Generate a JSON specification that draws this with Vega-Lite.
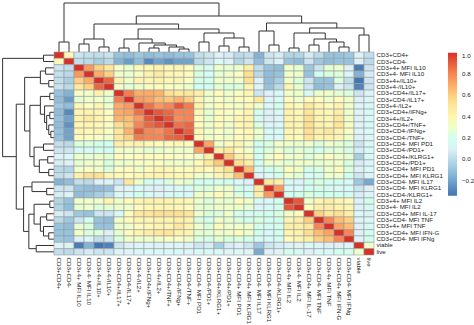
{
  "$schema": "https://vega.github.io/schema/vega-lite/v6.json",
  "background": "white",
  "padding": 0,
  "params": [
    {"name": "names", "value": ["CD3+CD4+", "CD3+CD4-", "CD3+4+ MFI IL10", "CD3+4- MFI IL10", "CD3+4+/IL10+", "CD3+4-/IL10+", "CD3+CD4+/IL17+", "CD3+CD4-/IL17+", "CD3+4-/IL2+", "CD3+CD4+/IFNg+", "CD3+4+/IL2+", "CD3+CD4+/TNF+", "CD3+CD4-/IFNg+", "CD3+CD4-/TNF+", "CD3+CD4- MFI PD1", "CD3+CD4-/PD1+", "CD3+CD4+/KLRG1+", "CD3+CD4+/PD1+", "CD3+CD4+ MFI PD1", "CD3+CD4+ MFI KLRG1", "CD3+CD4- MFI IL17", "CD3+CD4- MFI KLRG1", "CD3+CD4-/KLRG1+", "CD3+4+ MFI IL2", "CD3+4- MFI IL2", "CD3+CD4+ MFI IL-17", "CD3+CD4- MFI TNF", "CD3+4+ MFI TNF", "CD3+CD4+ MFI IFN-G", "CD3+CD4- MFI IFNg", "viable", "live"]}
  ],
  "datasets": {
    "tree": [
      {"p":0,"p2":1,"h":10,"h2":10},{"p":0,"p2":0,"h":0,"h2":10},{"p":1,"p2":1,"h":0,"h2":10},
      {"p":2,"p2":3,"h":8,"h2":8},{"p":2,"p2":2,"h":0,"h2":8},{"p":3,"p2":3,"h":0,"h2":8},
      {"p":4,"p2":5,"h":5,"h2":5},{"p":4,"p2":4,"h":0,"h2":5},{"p":5,"p2":5,"h":0,"h2":5},
      {"p":2.5,"p2":4.5,"h":13,"h2":13},{"p":2.5,"p2":2.5,"h":8,"h2":13},{"p":4.5,"p2":4.5,"h":5,"h2":13},
      {"p":6,"p2":7,"h":4,"h2":4},{"p":6,"p2":6,"h":0,"h2":4},{"p":7,"p2":7,"h":0,"h2":4},
      {"p":12,"p2":13,"h":3,"h2":3},{"p":12,"p2":12,"h":0,"h2":3},{"p":13,"p2":13,"h":0,"h2":3},
      {"p":11,"p2":12.5,"h":5,"h2":5},{"p":11,"p2":11,"h":0,"h2":5},{"p":12.5,"p2":12.5,"h":3,"h2":5},
      {"p":9,"p2":10,"h":4,"h2":4},{"p":9,"p2":9,"h":0,"h2":4},{"p":10,"p2":10,"h":0,"h2":4},
      {"p":9.5,"p2":11.75,"h":7,"h2":7},{"p":9.5,"p2":9.5,"h":4,"h2":7},{"p":11.75,"p2":11.75,"h":5,"h2":7},
      {"p":8,"p2":10.625,"h":9,"h2":9},{"p":8,"p2":8,"h":0,"h2":9},{"p":10.625,"p2":10.625,"h":7,"h2":9},
      {"p":6.5,"p2":9.3125,"h":13,"h2":13},{"p":6.5,"p2":6.5,"h":4,"h2":13},{"p":9.3125,"p2":9.3125,"h":9,"h2":13},
      {"p":14,"p2":15,"h":10,"h2":10},{"p":14,"p2":14,"h":0,"h2":10},{"p":15,"p2":15,"h":0,"h2":10},
      {"p":16,"p2":17,"h":6,"h2":6},{"p":16,"p2":16,"h":0,"h2":6},{"p":17,"p2":17,"h":0,"h2":6},
      {"p":18,"p2":19,"h":5,"h2":5},{"p":18,"p2":18,"h":0,"h2":5},{"p":19,"p2":19,"h":0,"h2":5},
      {"p":16.5,"p2":18.5,"h":14,"h2":14},{"p":16.5,"p2":16.5,"h":6,"h2":14},{"p":18.5,"p2":18.5,"h":5,"h2":14},
      {"p":14.5,"p2":17.5,"h":19,"h2":19},{"p":14.5,"p2":14.5,"h":10,"h2":19},{"p":17.5,"p2":17.5,"h":14,"h2":19},
      {"p":7.90625,"p2":16,"h":23,"h2":23},{"p":7.90625,"p2":7.90625,"h":13,"h2":23},{"p":16,"p2":16,"h":19,"h2":23},
      {"p":3.5,"p2":11.953125,"h":28,"h2":28},{"p":3.5,"p2":3.5,"h":13,"h2":28},{"p":11.953125,"p2":11.953125,"h":23,"h2":28},
      {"p":21,"p2":22,"h":7,"h2":7},{"p":21,"p2":21,"h":0,"h2":7},{"p":22,"p2":22,"h":0,"h2":7},
      {"p":20,"p2":21.5,"h":21,"h2":21},{"p":20,"p2":20,"h":0,"h2":21},{"p":21.5,"p2":21.5,"h":7,"h2":21},
      {"p":23,"p2":24,"h":4,"h2":4},{"p":23,"p2":23,"h":0,"h2":4},{"p":24,"p2":24,"h":0,"h2":4},
      {"p":25,"p2":26,"h":7,"h2":7},{"p":25,"p2":25,"h":0,"h2":7},{"p":26,"p2":26,"h":0,"h2":7},
      {"p":28,"p2":29,"h":5,"h2":5},{"p":28,"p2":28,"h":0,"h2":5},{"p":29,"p2":29,"h":0,"h2":5},
      {"p":27,"p2":28.5,"h":10,"h2":10},{"p":27,"p2":27,"h":0,"h2":10},{"p":28.5,"p2":28.5,"h":5,"h2":10},
      {"p":25.5,"p2":27.75,"h":13,"h2":13},{"p":25.5,"p2":25.5,"h":7,"h2":13},{"p":27.75,"p2":27.75,"h":10,"h2":13},
      {"p":23.5,"p2":26.625,"h":19,"h2":19},{"p":23.5,"p2":23.5,"h":4,"h2":19},{"p":26.625,"p2":26.625,"h":13,"h2":19},
      {"p":30,"p2":31,"h":17,"h2":17},{"p":30,"p2":30,"h":0,"h2":17},{"p":31,"p2":31,"h":0,"h2":17},
      {"p":25.0625,"p2":30.5,"h":24,"h2":24},{"p":25.0625,"p2":25.0625,"h":19,"h2":24},{"p":30.5,"p2":30.5,"h":17,"h2":24},
      {"p":20.75,"p2":27.78125,"h":29,"h2":29},{"p":20.75,"p2":20.75,"h":21,"h2":29},{"p":27.78125,"p2":27.78125,"h":24,"h2":29},
      {"p":7.7265625,"p2":24.265625,"h":36,"h2":36},{"p":7.7265625,"p2":7.7265625,"h":28,"h2":36},{"p":24.265625,"p2":24.265625,"h":29,"h2":36},
      {"p":0.5,"p2":15.99609375,"h":49,"h2":49},{"p":0.5,"p2":0.5,"h":10,"h2":49},{"p":15.99609375,"p2":15.99609375,"h":36,"h2":49}
    ],
    "cells": [
{"r":0,"c":0,"v":1},{"r":0,"c":1,"v":0.38},{"r":0,"c":2,"v":0.05},{"r":0,"c":3,"v":0.03},{"r":0,"c":4,"v":0.02},{"r":0,"c":5,"v":0.04},{"r":0,"c":6,"v":-0.1},{"r":0,"c":7,"v":-0.12},{"r":0,"c":8,"v":-0.08},{"r":0,"c":9,"v":-0.12},{"r":0,"c":10,"v":-0.1},{"r":0,"c":11,"v":-0.12},{"r":0,"c":12,"v":-0.1},{"r":0,"c":13,"v":-0.1},{"r":0,"c":14,"v":0.02},{"r":0,"c":15,"v":0.05},{"r":0,"c":16,"v":0.1},{"r":0,"c":17,"v":0.08},{"r":0,"c":18,"v":0},{"r":0,"c":19,"v":0.02},{"r":0,"c":20,"v":-0.15},{"r":0,"c":21,"v":0.05},{"r":0,"c":22,"v":0.08},{"r":0,"c":23,"v":-0.02},{"r":0,"c":24,"v":-0.02},{"r":0,"c":25,"v":0.08},{"r":0,"c":26,"v":0},{"r":0,"c":27,"v":-0.1},{"r":0,"c":28,"v":-0.1},{"r":0,"c":29,"v":-0.08},{"r":0,"c":30,"v":0.1},{"r":0,"c":31,"v":0.02},
{"r":1,"c":0,"v":0.38},{"r":1,"c":1,"v":1},{"r":1,"c":2,"v":0.02},{"r":1,"c":3,"v":0},{"r":1,"c":4,"v":-0.05},{"r":1,"c":5,"v":0},{"r":1,"c":6,"v":-0.15},{"r":1,"c":7,"v":-0.22},{"r":1,"c":8,"v":-0.12},{"r":1,"c":9,"v":-0.28},{"r":1,"c":10,"v":-0.2},{"r":1,"c":11,"v":-0.25},{"r":1,"c":12,"v":-0.2},{"r":1,"c":13,"v":-0.2},{"r":1,"c":14,"v":0},{"r":1,"c":15,"v":0.05},{"r":1,"c":16,"v":0.15},{"r":1,"c":17,"v":0.1},{"r":1,"c":18,"v":-0.02},{"r":1,"c":19,"v":0.05},{"r":1,"c":20,"v":-0.12},{"r":1,"c":21,"v":0.05},{"r":1,"c":22,"v":0.1},{"r":1,"c":23,"v":-0.1},{"r":1,"c":24,"v":-0.12},{"r":1,"c":25,"v":0.05},{"r":1,"c":26,"v":-0.08},{"r":1,"c":27,"v":-0.12},{"r":1,"c":28,"v":-0.1},{"r":1,"c":29,"v":-0.1},{"r":1,"c":30,"v":0.1},{"r":1,"c":31,"v":0},
{"r":2,"c":0,"v":0.05},{"r":2,"c":1,"v":0.02},{"r":2,"c":2,"v":1},{"r":2,"c":3,"v":0.75},{"r":2,"c":4,"v":0.6},{"r":2,"c":5,"v":0.5},{"r":2,"c":6,"v":0.32},{"r":2,"c":7,"v":0.28},{"r":2,"c":8,"v":0.38},{"r":2,"c":9,"v":0.4},{"r":2,"c":10,"v":0.42},{"r":2,"c":11,"v":0.38},{"r":2,"c":12,"v":0.4},{"r":2,"c":13,"v":0.35},{"r":2,"c":14,"v":0.25},{"r":2,"c":15,"v":0.18},{"r":2,"c":16,"v":0.3},{"r":2,"c":17,"v":0.28},{"r":2,"c":18,"v":0.3},{"r":2,"c":19,"v":0.45},{"r":2,"c":20,"v":0.02},{"r":2,"c":21,"v":-0.1},{"r":2,"c":22,"v":-0.12},{"r":2,"c":23,"v":0.3},{"r":2,"c":24,"v":0.28},{"r":2,"c":25,"v":-0.08},{"r":2,"c":26,"v":0.05},{"r":2,"c":27,"v":0.28},{"r":2,"c":28,"v":0.3},{"r":2,"c":29,"v":0.1},{"r":2,"c":30,"v":-0.32},{"r":2,"c":31,"v":0.05},
{"r":3,"c":0,"v":0.03},{"r":3,"c":1,"v":0},{"r":3,"c":2,"v":0.75},{"r":3,"c":3,"v":1},{"r":3,"c":4,"v":0.7},{"r":3,"c":5,"v":0.6},{"r":3,"c":6,"v":0.3},{"r":3,"c":7,"v":0.3},{"r":3,"c":8,"v":0.32},{"r":3,"c":9,"v":0.42},{"r":3,"c":10,"v":0.48},{"r":3,"c":11,"v":0.4},{"r":3,"c":12,"v":0.38},{"r":3,"c":13,"v":0.35},{"r":3,"c":14,"v":0.25},{"r":3,"c":15,"v":0.15},{"r":3,"c":16,"v":0.28},{"r":3,"c":17,"v":0.3},{"r":3,"c":18,"v":0.32},{"r":3,"c":19,"v":0.55},{"r":3,"c":20,"v":0},{"r":3,"c":21,"v":-0.12},{"r":3,"c":22,"v":-0.1},{"r":3,"c":23,"v":0.3},{"r":3,"c":24,"v":0.3},{"r":3,"c":25,"v":-0.1},{"r":3,"c":26,"v":0.2},{"r":3,"c":27,"v":0.25},{"r":3,"c":28,"v":0.25},{"r":3,"c":29,"v":0.12},{"r":3,"c":30,"v":-0.15},{"r":3,"c":31,"v":0.08},
{"r":4,"c":0,"v":0.02},{"r":4,"c":1,"v":-0.05},{"r":4,"c":2,"v":0.6},{"r":4,"c":3,"v":0.7},{"r":4,"c":4,"v":1},{"r":4,"c":5,"v":0.88},{"r":4,"c":6,"v":0.42},{"r":4,"c":7,"v":0.3},{"r":4,"c":8,"v":0.4},{"r":4,"c":9,"v":0.4},{"r":4,"c":10,"v":0.42},{"r":4,"c":11,"v":0.38},{"r":4,"c":12,"v":0.4},{"r":4,"c":13,"v":0.32},{"r":4,"c":14,"v":0.22},{"r":4,"c":15,"v":0.2},{"r":4,"c":16,"v":0.3},{"r":4,"c":17,"v":0.3},{"r":4,"c":18,"v":0.3},{"r":4,"c":19,"v":0.55},{"r":4,"c":20,"v":0.1},{"r":4,"c":21,"v":-0.12},{"r":4,"c":22,"v":-0.05},{"r":4,"c":23,"v":0.3},{"r":4,"c":24,"v":0.25},{"r":4,"c":25,"v":0.05},{"r":4,"c":26,"v":-0.1},{"r":4,"c":27,"v":-0.1},{"r":4,"c":28,"v":0.25},{"r":4,"c":29,"v":0.02},{"r":4,"c":30,"v":-0.34},{"r":4,"c":31,"v":0.05},
{"r":5,"c":0,"v":0.04},{"r":5,"c":1,"v":0},{"r":5,"c":2,"v":0.5},{"r":5,"c":3,"v":0.6},{"r":5,"c":4,"v":0.88},{"r":5,"c":5,"v":1},{"r":5,"c":6,"v":0.3},{"r":5,"c":7,"v":0.28},{"r":5,"c":8,"v":0.3},{"r":5,"c":9,"v":0.32},{"r":5,"c":10,"v":0.35},{"r":5,"c":11,"v":0.32},{"r":5,"c":12,"v":0.32},{"r":5,"c":13,"v":0.3},{"r":5,"c":14,"v":0.2},{"r":5,"c":15,"v":0.18},{"r":5,"c":16,"v":0.28},{"r":5,"c":17,"v":0.25},{"r":5,"c":18,"v":0.25},{"r":5,"c":19,"v":0.4},{"r":5,"c":20,"v":0.12},{"r":5,"c":21,"v":-0.1},{"r":5,"c":22,"v":0},{"r":5,"c":23,"v":0.4},{"r":5,"c":24,"v":0.28},{"r":5,"c":25,"v":0.05},{"r":5,"c":26,"v":-0.12},{"r":5,"c":27,"v":-0.1},{"r":5,"c":28,"v":0.1},{"r":5,"c":29,"v":0.05},{"r":5,"c":30,"v":-0.3},{"r":5,"c":31,"v":0.05},
{"r":6,"c":0,"v":-0.1},{"r":6,"c":1,"v":-0.15},{"r":6,"c":2,"v":0.32},{"r":6,"c":3,"v":0.3},{"r":6,"c":4,"v":0.42},{"r":6,"c":5,"v":0.3},{"r":6,"c":6,"v":1},{"r":6,"c":7,"v":0.82},{"r":6,"c":8,"v":0.7},{"r":6,"c":9,"v":0.7},{"r":6,"c":10,"v":0.68},{"r":6,"c":11,"v":0.55},{"r":6,"c":12,"v":0.5},{"r":6,"c":13,"v":0.5},{"r":6,"c":14,"v":0.45},{"r":6,"c":15,"v":0.3},{"r":6,"c":16,"v":0.35},{"r":6,"c":17,"v":0.3},{"r":6,"c":18,"v":0.32},{"r":6,"c":19,"v":0.38},{"r":6,"c":20,"v":0.05},{"r":6,"c":21,"v":0.1},{"r":6,"c":22,"v":0.15},{"r":6,"c":23,"v":0.3},{"r":6,"c":24,"v":0.3},{"r":6,"c":25,"v":0.15},{"r":6,"c":26,"v":0.3},{"r":6,"c":27,"v":0.3},{"r":6,"c":28,"v":0.28},{"r":6,"c":29,"v":0.25},{"r":6,"c":30,"v":0.05},{"r":6,"c":31,"v":0.12},
{"r":7,"c":0,"v":-0.12},{"r":7,"c":1,"v":-0.22},{"r":7,"c":2,"v":0.28},{"r":7,"c":3,"v":0.3},{"r":7,"c":4,"v":0.3},{"r":7,"c":5,"v":0.28},{"r":7,"c":6,"v":0.82},{"r":7,"c":7,"v":1},{"r":7,"c":8,"v":0.75},{"r":7,"c":9,"v":0.72},{"r":7,"c":10,"v":0.65},{"r":7,"c":11,"v":0.62},{"r":7,"c":12,"v":0.68},{"r":7,"c":13,"v":0.6},{"r":7,"c":14,"v":0.4},{"r":7,"c":15,"v":0.3},{"r":7,"c":16,"v":0.32},{"r":7,"c":17,"v":0.3},{"r":7,"c":18,"v":0.35},{"r":7,"c":19,"v":0.35},{"r":7,"c":20,"v":0.5},{"r":7,"c":21,"v":0.12},{"r":7,"c":22,"v":0.15},{"r":7,"c":23,"v":0.35},{"r":7,"c":24,"v":0.3},{"r":7,"c":25,"v":0.35},{"r":7,"c":26,"v":0.35},{"r":7,"c":27,"v":0.3},{"r":7,"c":28,"v":0.35},{"r":7,"c":29,"v":0.3},{"r":7,"c":30,"v":0.1},{"r":7,"c":31,"v":0.12},
{"r":8,"c":0,"v":-0.08},{"r":8,"c":1,"v":-0.12},{"r":8,"c":2,"v":0.38},{"r":8,"c":3,"v":0.32},{"r":8,"c":4,"v":0.4},{"r":8,"c":5,"v":0.3},{"r":8,"c":6,"v":0.7},{"r":8,"c":7,"v":0.75},{"r":8,"c":8,"v":1},{"r":8,"c":9,"v":0.85},{"r":8,"c":10,"v":0.75},{"r":8,"c":11,"v":0.8},{"r":8,"c":12,"v":0.92},{"r":8,"c":13,"v":0.82},{"r":8,"c":14,"v":0.42},{"r":8,"c":15,"v":0.3},{"r":8,"c":16,"v":0.35},{"r":8,"c":17,"v":0.32},{"r":8,"c":18,"v":0.3},{"r":8,"c":19,"v":0.38},{"r":8,"c":20,"v":0.3},{"r":8,"c":21,"v":0.15},{"r":8,"c":22,"v":0.2},{"r":8,"c":23,"v":0.4},{"r":8,"c":24,"v":0.35},{"r":8,"c":25,"v":0.5},{"r":8,"c":26,"v":0.4},{"r":8,"c":27,"v":0.35},{"r":8,"c":28,"v":0.4},{"r":8,"c":29,"v":0.3},{"r":8,"c":30,"v":0.12},{"r":8,"c":31,"v":0.15},
{"r":9,"c":0,"v":-0.12},{"r":9,"c":1,"v":-0.28},{"r":9,"c":2,"v":0.4},{"r":9,"c":3,"v":0.42},{"r":9,"c":4,"v":0.4},{"r":9,"c":5,"v":0.32},{"r":9,"c":6,"v":0.7},{"r":9,"c":7,"v":0.72},{"r":9,"c":8,"v":0.85},{"r":9,"c":9,"v":1},{"r":9,"c":10,"v":0.92},{"r":9,"c":11,"v":0.88},{"r":9,"c":12,"v":0.8},{"r":9,"c":13,"v":0.8},{"r":9,"c":14,"v":0.38},{"r":9,"c":15,"v":0.28},{"r":9,"c":16,"v":0.35},{"r":9,"c":17,"v":0.32},{"r":9,"c":18,"v":0.35},{"r":9,"c":19,"v":0.4},{"r":9,"c":20,"v":0.2},{"r":9,"c":21,"v":0.1},{"r":9,"c":22,"v":0.15},{"r":9,"c":23,"v":0.42},{"r":9,"c":24,"v":0.38},{"r":9,"c":25,"v":0.52},{"r":9,"c":26,"v":0.4},{"r":9,"c":27,"v":0.38},{"r":9,"c":28,"v":0.45},{"r":9,"c":29,"v":0.3},{"r":9,"c":30,"v":0.12},{"r":9,"c":31,"v":0.15},
{"r":10,"c":0,"v":-0.1},{"r":10,"c":1,"v":-0.2},{"r":10,"c":2,"v":0.42},{"r":10,"c":3,"v":0.48},{"r":10,"c":4,"v":0.42},{"r":10,"c":5,"v":0.35},{"r":10,"c":6,"v":0.68},{"r":10,"c":7,"v":0.65},{"r":10,"c":8,"v":0.75},{"r":10,"c":9,"v":0.92},{"r":10,"c":10,"v":1},{"r":10,"c":11,"v":0.92},{"r":10,"c":12,"v":0.78},{"r":10,"c":13,"v":0.8},{"r":10,"c":14,"v":0.35},{"r":10,"c":15,"v":0.28},{"r":10,"c":16,"v":0.35},{"r":10,"c":17,"v":0.32},{"r":10,"c":18,"v":0.4},{"r":10,"c":19,"v":0.42},{"r":10,"c":20,"v":0.15},{"r":10,"c":21,"v":0.1},{"r":10,"c":22,"v":0.12},{"r":10,"c":23,"v":0.42},{"r":10,"c":24,"v":0.4},{"r":10,"c":25,"v":0.55},{"r":10,"c":26,"v":0.42},{"r":10,"c":27,"v":0.4},{"r":10,"c":28,"v":0.5},{"r":10,"c":29,"v":0.3},{"r":10,"c":30,"v":0.1},{"r":10,"c":31,"v":0.15},
{"r":11,"c":0,"v":-0.12},{"r":11,"c":1,"v":-0.25},{"r":11,"c":2,"v":0.38},{"r":11,"c":3,"v":0.4},{"r":11,"c":4,"v":0.38},{"r":11,"c":5,"v":0.32},{"r":11,"c":6,"v":0.55},{"r":11,"c":7,"v":0.62},{"r":11,"c":8,"v":0.8},{"r":11,"c":9,"v":0.88},{"r":11,"c":10,"v":0.92},{"r":11,"c":11,"v":1},{"r":11,"c":12,"v":0.85},{"r":11,"c":13,"v":0.88},{"r":11,"c":14,"v":0.35},{"r":11,"c":15,"v":0.3},{"r":11,"c":16,"v":0.35},{"r":11,"c":17,"v":0.3},{"r":11,"c":18,"v":0.38},{"r":11,"c":19,"v":0.4},{"r":11,"c":20,"v":0.25},{"r":11,"c":21,"v":0.12},{"r":11,"c":22,"v":0.15},{"r":11,"c":23,"v":0.42},{"r":11,"c":24,"v":0.4},{"r":11,"c":25,"v":0.55},{"r":11,"c":26,"v":0.42},{"r":11,"c":27,"v":0.4},{"r":11,"c":28,"v":0.52},{"r":11,"c":29,"v":0.32},{"r":11,"c":30,"v":0.12},{"r":11,"c":31,"v":0.15},
{"r":12,"c":0,"v":-0.1},{"r":12,"c":1,"v":-0.2},{"r":12,"c":2,"v":0.4},{"r":12,"c":3,"v":0.38},{"r":12,"c":4,"v":0.4},{"r":12,"c":5,"v":0.32},{"r":12,"c":6,"v":0.5},{"r":12,"c":7,"v":0.68},{"r":12,"c":8,"v":0.92},{"r":12,"c":9,"v":0.8},{"r":12,"c":10,"v":0.78},{"r":12,"c":11,"v":0.85},{"r":12,"c":12,"v":1},{"r":12,"c":13,"v":0.9},{"r":12,"c":14,"v":0.38},{"r":12,"c":15,"v":0.3},{"r":12,"c":16,"v":0.32},{"r":12,"c":17,"v":0.3},{"r":12,"c":18,"v":0.35},{"r":12,"c":19,"v":0.38},{"r":12,"c":20,"v":0.3},{"r":12,"c":21,"v":0.15},{"r":12,"c":22,"v":0.18},{"r":12,"c":23,"v":0.4},{"r":12,"c":24,"v":0.38},{"r":12,"c":25,"v":0.55},{"r":12,"c":26,"v":0.45},{"r":12,"c":27,"v":0.5},{"r":12,"c":28,"v":0.42},{"r":12,"c":29,"v":0.32},{"r":12,"c":30,"v":0.12},{"r":12,"c":31,"v":0.15},
{"r":13,"c":0,"v":-0.1},{"r":13,"c":1,"v":-0.2},{"r":13,"c":2,"v":0.35},{"r":13,"c":3,"v":0.35},{"r":13,"c":4,"v":0.32},{"r":13,"c":5,"v":0.3},{"r":13,"c":6,"v":0.5},{"r":13,"c":7,"v":0.6},{"r":13,"c":8,"v":0.82},{"r":13,"c":9,"v":0.8},{"r":13,"c":10,"v":0.8},{"r":13,"c":11,"v":0.88},{"r":13,"c":12,"v":0.9},{"r":13,"c":13,"v":1},{"r":13,"c":14,"v":0.35},{"r":13,"c":15,"v":0.3},{"r":13,"c":16,"v":0.32},{"r":13,"c":17,"v":0.3},{"r":13,"c":18,"v":0.35},{"r":13,"c":19,"v":0.38},{"r":13,"c":20,"v":0.28},{"r":13,"c":21,"v":0.15},{"r":13,"c":22,"v":0.15},{"r":13,"c":23,"v":0.38},{"r":13,"c":24,"v":0.35},{"r":13,"c":25,"v":0.52},{"r":13,"c":26,"v":0.42},{"r":13,"c":27,"v":0.42},{"r":13,"c":28,"v":0.4},{"r":13,"c":29,"v":0.3},{"r":13,"c":30,"v":0.1},{"r":13,"c":31,"v":0.12},
{"r":14,"c":0,"v":0.02},{"r":14,"c":1,"v":0},{"r":14,"c":2,"v":0.25},{"r":14,"c":3,"v":0.25},{"r":14,"c":4,"v":0.22},{"r":14,"c":5,"v":0.2},{"r":14,"c":6,"v":0.45},{"r":14,"c":7,"v":0.4},{"r":14,"c":8,"v":0.42},{"r":14,"c":9,"v":0.38},{"r":14,"c":10,"v":0.35},{"r":14,"c":11,"v":0.35},{"r":14,"c":12,"v":0.38},{"r":14,"c":13,"v":0.35},{"r":14,"c":14,"v":1},{"r":14,"c":15,"v":0.72},{"r":14,"c":16,"v":0.3},{"r":14,"c":17,"v":0.35},{"r":14,"c":18,"v":0.4},{"r":14,"c":19,"v":0.3},{"r":14,"c":20,"v":0.2},{"r":14,"c":21,"v":0.25},{"r":14,"c":22,"v":0.3},{"r":14,"c":23,"v":0.3},{"r":14,"c":24,"v":0.28},{"r":14,"c":25,"v":0.3},{"r":14,"c":26,"v":0.25},{"r":14,"c":27,"v":0.3},{"r":14,"c":28,"v":0.28},{"r":14,"c":29,"v":0.25},{"r":14,"c":30,"v":0.05},{"r":14,"c":31,"v":0.15},
{"r":15,"c":0,"v":0.05},{"r":15,"c":1,"v":0.05},{"r":15,"c":2,"v":0.18},{"r":15,"c":3,"v":0.15},{"r":15,"c":4,"v":0.2},{"r":15,"c":5,"v":0.18},{"r":15,"c":6,"v":0.3},{"r":15,"c":7,"v":0.3},{"r":15,"c":8,"v":0.3},{"r":15,"c":9,"v":0.28},{"r":15,"c":10,"v":0.28},{"r":15,"c":11,"v":0.3},{"r":15,"c":12,"v":0.3},{"r":15,"c":13,"v":0.3},{"r":15,"c":14,"v":0.72},{"r":15,"c":15,"v":1},{"r":15,"c":16,"v":0.45},{"r":15,"c":17,"v":0.5},{"r":15,"c":18,"v":0.35},{"r":15,"c":19,"v":0.3},{"r":15,"c":20,"v":0.2},{"r":15,"c":21,"v":0.25},{"r":15,"c":22,"v":0.3},{"r":15,"c":23,"v":0.25},{"r":15,"c":24,"v":0.28},{"r":15,"c":25,"v":0.25},{"r":15,"c":26,"v":0.2},{"r":15,"c":27,"v":0.25},{"r":15,"c":28,"v":0.28},{"r":15,"c":29,"v":0.22},{"r":15,"c":30,"v":0.08},{"r":15,"c":31,"v":0.15},
{"r":16,"c":0,"v":0.1},{"r":16,"c":1,"v":0.15},{"r":16,"c":2,"v":0.3},{"r":16,"c":3,"v":0.28},{"r":16,"c":4,"v":0.3},{"r":16,"c":5,"v":0.28},{"r":16,"c":6,"v":0.35},{"r":16,"c":7,"v":0.32},{"r":16,"c":8,"v":0.35},{"r":16,"c":9,"v":0.35},{"r":16,"c":10,"v":0.35},{"r":16,"c":11,"v":0.35},{"r":16,"c":12,"v":0.32},{"r":16,"c":13,"v":0.32},{"r":16,"c":14,"v":0.3},{"r":16,"c":15,"v":0.45},{"r":16,"c":16,"v":1},{"r":16,"c":17,"v":0.62},{"r":16,"c":18,"v":0.45},{"r":16,"c":19,"v":0.4},{"r":16,"c":20,"v":0.2},{"r":16,"c":21,"v":0.3},{"r":16,"c":22,"v":0.35},{"r":16,"c":23,"v":0.3},{"r":16,"c":24,"v":0.3},{"r":16,"c":25,"v":0.25},{"r":16,"c":26,"v":0.3},{"r":16,"c":27,"v":0.35},{"r":16,"c":28,"v":0.3},{"r":16,"c":29,"v":0.28},{"r":16,"c":30,"v":-0.05},{"r":16,"c":31,"v":0.15},
{"r":17,"c":0,"v":0.08},{"r":17,"c":1,"v":0.1},{"r":17,"c":2,"v":0.28},{"r":17,"c":3,"v":0.3},{"r":17,"c":4,"v":0.3},{"r":17,"c":5,"v":0.25},{"r":17,"c":6,"v":0.3},{"r":17,"c":7,"v":0.3},{"r":17,"c":8,"v":0.32},{"r":17,"c":9,"v":0.32},{"r":17,"c":10,"v":0.32},{"r":17,"c":11,"v":0.3},{"r":17,"c":12,"v":0.3},{"r":17,"c":13,"v":0.3},{"r":17,"c":14,"v":0.35},{"r":17,"c":15,"v":0.5},{"r":17,"c":16,"v":0.62},{"r":17,"c":17,"v":1},{"r":17,"c":18,"v":0.55},{"r":17,"c":19,"v":0.45},{"r":17,"c":20,"v":0.2},{"r":17,"c":21,"v":0.3},{"r":17,"c":22,"v":0.3},{"r":17,"c":23,"v":0.28},{"r":17,"c":24,"v":0.3},{"r":17,"c":25,"v":0.3},{"r":17,"c":26,"v":0.28},{"r":17,"c":27,"v":0.3},{"r":17,"c":28,"v":0.3},{"r":17,"c":29,"v":0.25},{"r":17,"c":30,"v":0.08},{"r":17,"c":31,"v":0.12},
{"r":18,"c":0,"v":0},{"r":18,"c":1,"v":-0.02},{"r":18,"c":2,"v":0.3},{"r":18,"c":3,"v":0.32},{"r":18,"c":4,"v":0.3},{"r":18,"c":5,"v":0.25},{"r":18,"c":6,"v":0.32},{"r":18,"c":7,"v":0.35},{"r":18,"c":8,"v":0.3},{"r":18,"c":9,"v":0.35},{"r":18,"c":10,"v":0.4},{"r":18,"c":11,"v":0.38},{"r":18,"c":12,"v":0.35},{"r":18,"c":13,"v":0.35},{"r":18,"c":14,"v":0.4},{"r":18,"c":15,"v":0.35},{"r":18,"c":16,"v":0.45},{"r":18,"c":17,"v":0.55},{"r":18,"c":18,"v":1},{"r":18,"c":19,"v":0.65},{"r":18,"c":20,"v":0.15},{"r":18,"c":21,"v":0.2},{"r":18,"c":22,"v":0.25},{"r":18,"c":23,"v":0.35},{"r":18,"c":24,"v":0.3},{"r":18,"c":25,"v":0.2},{"r":18,"c":26,"v":0.25},{"r":18,"c":27,"v":0.3},{"r":18,"c":28,"v":0.35},{"r":18,"c":29,"v":0.25},{"r":18,"c":30,"v":0.1},{"r":18,"c":31,"v":0.15},
{"r":19,"c":0,"v":0.02},{"r":19,"c":1,"v":0.05},{"r":19,"c":2,"v":0.45},{"r":19,"c":3,"v":0.55},{"r":19,"c":4,"v":0.55},{"r":19,"c":5,"v":0.4},{"r":19,"c":6,"v":0.38},{"r":19,"c":7,"v":0.35},{"r":19,"c":8,"v":0.38},{"r":19,"c":9,"v":0.4},{"r":19,"c":10,"v":0.42},{"r":19,"c":11,"v":0.4},{"r":19,"c":12,"v":0.38},{"r":19,"c":13,"v":0.38},{"r":19,"c":14,"v":0.3},{"r":19,"c":15,"v":0.3},{"r":19,"c":16,"v":0.4},{"r":19,"c":17,"v":0.45},{"r":19,"c":18,"v":0.65},{"r":19,"c":19,"v":1},{"r":19,"c":20,"v":0.1},{"r":19,"c":21,"v":0.15},{"r":19,"c":22,"v":0.2},{"r":19,"c":23,"v":0.3},{"r":19,"c":24,"v":0.28},{"r":19,"c":25,"v":0.15},{"r":19,"c":26,"v":0.2},{"r":19,"c":27,"v":0.3},{"r":19,"c":28,"v":0.3},{"r":19,"c":29,"v":0.2},{"r":19,"c":30,"v":0.05},{"r":19,"c":31,"v":0.12},
{"r":20,"c":0,"v":-0.15},{"r":20,"c":1,"v":-0.12},{"r":20,"c":2,"v":0.02},{"r":20,"c":3,"v":0},{"r":20,"c":4,"v":0.1},{"r":20,"c":5,"v":0.12},{"r":20,"c":6,"v":0.05},{"r":20,"c":7,"v":0.5},{"r":20,"c":8,"v":0.3},{"r":20,"c":9,"v":0.2},{"r":20,"c":10,"v":0.15},{"r":20,"c":11,"v":0.25},{"r":20,"c":12,"v":0.3},{"r":20,"c":13,"v":0.28},{"r":20,"c":14,"v":0.2},{"r":20,"c":15,"v":0.2},{"r":20,"c":16,"v":0.2},{"r":20,"c":17,"v":0.2},{"r":20,"c":18,"v":0.15},{"r":20,"c":19,"v":0.1},{"r":20,"c":20,"v":1},{"r":20,"c":21,"v":0.5},{"r":20,"c":22,"v":0.45},{"r":20,"c":23,"v":0.15},{"r":20,"c":24,"v":0.12},{"r":20,"c":25,"v":0.2},{"r":20,"c":26,"v":0.25},{"r":20,"c":27,"v":0.2},{"r":20,"c":28,"v":0.2},{"r":20,"c":29,"v":0.15},{"r":20,"c":30,"v":-0.08},{"r":20,"c":31,"v":-0.18},
{"r":21,"c":0,"v":0.05},{"r":21,"c":1,"v":0.05},{"r":21,"c":2,"v":-0.1},{"r":21,"c":3,"v":-0.12},{"r":21,"c":4,"v":-0.12},{"r":21,"c":5,"v":-0.1},{"r":21,"c":6,"v":0.1},{"r":21,"c":7,"v":0.12},{"r":21,"c":8,"v":0.15},{"r":21,"c":9,"v":0.1},{"r":21,"c":10,"v":0.1},{"r":21,"c":11,"v":0.12},{"r":21,"c":12,"v":0.15},{"r":21,"c":13,"v":0.15},{"r":21,"c":14,"v":0.25},{"r":21,"c":15,"v":0.25},{"r":21,"c":16,"v":0.3},{"r":21,"c":17,"v":0.3},{"r":21,"c":18,"v":0.2},{"r":21,"c":19,"v":0.15},{"r":21,"c":20,"v":0.5},{"r":21,"c":21,"v":1},{"r":21,"c":22,"v":0.75},{"r":21,"c":23,"v":0.15},{"r":21,"c":24,"v":0.15},{"r":21,"c":25,"v":0.2},{"r":21,"c":26,"v":0.2},{"r":21,"c":27,"v":0.18},{"r":21,"c":28,"v":0.15},{"r":21,"c":29,"v":0.15},{"r":21,"c":30,"v":0.05},{"r":21,"c":31,"v":0.1},
{"r":22,"c":0,"v":0.08},{"r":22,"c":1,"v":0.1},{"r":22,"c":2,"v":-0.12},{"r":22,"c":3,"v":-0.1},{"r":22,"c":4,"v":-0.05},{"r":22,"c":5,"v":0},{"r":22,"c":6,"v":0.15},{"r":22,"c":7,"v":0.15},{"r":22,"c":8,"v":0.2},{"r":22,"c":9,"v":0.15},{"r":22,"c":10,"v":0.12},{"r":22,"c":11,"v":0.15},{"r":22,"c":12,"v":0.18},{"r":22,"c":13,"v":0.15},{"r":22,"c":14,"v":0.3},{"r":22,"c":15,"v":0.3},{"r":22,"c":16,"v":0.35},{"r":22,"c":17,"v":0.3},{"r":22,"c":18,"v":0.25},{"r":22,"c":19,"v":0.2},{"r":22,"c":20,"v":0.45},{"r":22,"c":21,"v":0.75},{"r":22,"c":22,"v":1},{"r":22,"c":23,"v":0.2},{"r":22,"c":24,"v":0.2},{"r":22,"c":25,"v":0.25},{"r":22,"c":26,"v":0.2},{"r":22,"c":27,"v":0.2},{"r":22,"c":28,"v":0.2},{"r":22,"c":29,"v":0.18},{"r":22,"c":30,"v":0.08},{"r":22,"c":31,"v":0.12},
{"r":23,"c":0,"v":-0.02},{"r":23,"c":1,"v":-0.1},{"r":23,"c":2,"v":0.3},{"r":23,"c":3,"v":0.3},{"r":23,"c":4,"v":0.3},{"r":23,"c":5,"v":0.4},{"r":23,"c":6,"v":0.3},{"r":23,"c":7,"v":0.35},{"r":23,"c":8,"v":0.4},{"r":23,"c":9,"v":0.42},{"r":23,"c":10,"v":0.42},{"r":23,"c":11,"v":0.42},{"r":23,"c":12,"v":0.4},{"r":23,"c":13,"v":0.38},{"r":23,"c":14,"v":0.3},{"r":23,"c":15,"v":0.25},{"r":23,"c":16,"v":0.3},{"r":23,"c":17,"v":0.28},{"r":23,"c":18,"v":0.35},{"r":23,"c":19,"v":0.3},{"r":23,"c":20,"v":0.15},{"r":23,"c":21,"v":0.15},{"r":23,"c":22,"v":0.2},{"r":23,"c":23,"v":1},{"r":23,"c":24,"v":0.92},{"r":23,"c":25,"v":0.3},{"r":23,"c":26,"v":0.4},{"r":23,"c":27,"v":0.45},{"r":23,"c":28,"v":0.4},{"r":23,"c":29,"v":0.35},{"r":23,"c":30,"v":0.1},{"r":23,"c":31,"v":0.2},
{"r":24,"c":0,"v":-0.02},{"r":24,"c":1,"v":-0.12},{"r":24,"c":2,"v":0.28},{"r":24,"c":3,"v":0.3},{"r":24,"c":4,"v":0.25},{"r":24,"c":5,"v":0.28},{"r":24,"c":6,"v":0.3},{"r":24,"c":7,"v":0.3},{"r":24,"c":8,"v":0.35},{"r":24,"c":9,"v":0.38},{"r":24,"c":10,"v":0.4},{"r":24,"c":11,"v":0.4},{"r":24,"c":12,"v":0.38},{"r":24,"c":13,"v":0.35},{"r":24,"c":14,"v":0.28},{"r":24,"c":15,"v":0.28},{"r":24,"c":16,"v":0.3},{"r":24,"c":17,"v":0.3},{"r":24,"c":18,"v":0.3},{"r":24,"c":19,"v":0.28},{"r":24,"c":20,"v":0.12},{"r":24,"c":21,"v":0.15},{"r":24,"c":22,"v":0.2},{"r":24,"c":23,"v":0.92},{"r":24,"c":24,"v":1},{"r":24,"c":25,"v":0.35},{"r":24,"c":26,"v":0.45},{"r":24,"c":27,"v":0.45},{"r":24,"c":28,"v":0.42},{"r":24,"c":29,"v":0.4},{"r":24,"c":30,"v":0.1},{"r":24,"c":31,"v":0.18},
{"r":25,"c":0,"v":0.08},{"r":25,"c":1,"v":0.05},{"r":25,"c":2,"v":-0.08},{"r":25,"c":3,"v":-0.1},{"r":25,"c":4,"v":0.05},{"r":25,"c":5,"v":0.05},{"r":25,"c":6,"v":0.15},{"r":25,"c":7,"v":0.35},{"r":25,"c":8,"v":0.5},{"r":25,"c":9,"v":0.52},{"r":25,"c":10,"v":0.55},{"r":25,"c":11,"v":0.55},{"r":25,"c":12,"v":0.55},{"r":25,"c":13,"v":0.52},{"r":25,"c":14,"v":0.3},{"r":25,"c":15,"v":0.25},{"r":25,"c":16,"v":0.25},{"r":25,"c":17,"v":0.3},{"r":25,"c":18,"v":0.2},{"r":25,"c":19,"v":0.15},{"r":25,"c":20,"v":0.2},{"r":25,"c":21,"v":0.2},{"r":25,"c":22,"v":0.25},{"r":25,"c":23,"v":0.3},{"r":25,"c":24,"v":0.35},{"r":25,"c":25,"v":1},{"r":25,"c":26,"v":0.6},{"r":25,"c":27,"v":0.5},{"r":25,"c":28,"v":0.55},{"r":25,"c":29,"v":0.45},{"r":25,"c":30,"v":0.15},{"r":25,"c":31,"v":0.1},
{"r":26,"c":0,"v":0},{"r":26,"c":1,"v":-0.08},{"r":26,"c":2,"v":0.05},{"r":26,"c":3,"v":0.2},{"r":26,"c":4,"v":-0.1},{"r":26,"c":5,"v":-0.12},{"r":26,"c":6,"v":0.3},{"r":26,"c":7,"v":0.35},{"r":26,"c":8,"v":0.4},{"r":26,"c":9,"v":0.4},{"r":26,"c":10,"v":0.42},{"r":26,"c":11,"v":0.42},{"r":26,"c":12,"v":0.45},{"r":26,"c":13,"v":0.42},{"r":26,"c":14,"v":0.25},{"r":26,"c":15,"v":0.2},{"r":26,"c":16,"v":0.3},{"r":26,"c":17,"v":0.28},{"r":26,"c":18,"v":0.25},{"r":26,"c":19,"v":0.2},{"r":26,"c":20,"v":0.25},{"r":26,"c":21,"v":0.2},{"r":26,"c":22,"v":0.2},{"r":26,"c":23,"v":0.4},{"r":26,"c":24,"v":0.45},{"r":26,"c":25,"v":0.6},{"r":26,"c":26,"v":1},{"r":26,"c":27,"v":0.8},{"r":26,"c":28,"v":0.65},{"r":26,"c":29,"v":0.6},{"r":26,"c":30,"v":0.12},{"r":26,"c":31,"v":0.15},
{"r":27,"c":0,"v":-0.1},{"r":27,"c":1,"v":-0.12},{"r":27,"c":2,"v":0.28},{"r":27,"c":3,"v":0.25},{"r":27,"c":4,"v":-0.1},{"r":27,"c":5,"v":-0.1},{"r":27,"c":6,"v":0.3},{"r":27,"c":7,"v":0.3},{"r":27,"c":8,"v":0.35},{"r":27,"c":9,"v":0.38},{"r":27,"c":10,"v":0.4},{"r":27,"c":11,"v":0.4},{"r":27,"c":12,"v":0.5},{"r":27,"c":13,"v":0.42},{"r":27,"c":14,"v":0.3},{"r":27,"c":15,"v":0.25},{"r":27,"c":16,"v":0.35},{"r":27,"c":17,"v":0.3},{"r":27,"c":18,"v":0.3},{"r":27,"c":19,"v":0.3},{"r":27,"c":20,"v":0.2},{"r":27,"c":21,"v":0.18},{"r":27,"c":22,"v":0.2},{"r":27,"c":23,"v":0.45},{"r":27,"c":24,"v":0.45},{"r":27,"c":25,"v":0.5},{"r":27,"c":26,"v":0.8},{"r":27,"c":27,"v":1},{"r":27,"c":28,"v":0.72},{"r":27,"c":29,"v":0.65},{"r":27,"c":30,"v":0.1},{"r":27,"c":31,"v":0.15},
{"r":28,"c":0,"v":-0.1},{"r":28,"c":1,"v":-0.1},{"r":28,"c":2,"v":0.3},{"r":28,"c":3,"v":0.25},{"r":28,"c":4,"v":0.25},{"r":28,"c":5,"v":0.1},{"r":28,"c":6,"v":0.28},{"r":28,"c":7,"v":0.35},{"r":28,"c":8,"v":0.4},{"r":28,"c":9,"v":0.45},{"r":28,"c":10,"v":0.5},{"r":28,"c":11,"v":0.52},{"r":28,"c":12,"v":0.42},{"r":28,"c":13,"v":0.4},{"r":28,"c":14,"v":0.28},{"r":28,"c":15,"v":0.28},{"r":28,"c":16,"v":0.3},{"r":28,"c":17,"v":0.3},{"r":28,"c":18,"v":0.35},{"r":28,"c":19,"v":0.3},{"r":28,"c":20,"v":0.2},{"r":28,"c":21,"v":0.15},{"r":28,"c":22,"v":0.2},{"r":28,"c":23,"v":0.4},{"r":28,"c":24,"v":0.42},{"r":28,"c":25,"v":0.55},{"r":28,"c":26,"v":0.65},{"r":28,"c":27,"v":0.72},{"r":28,"c":28,"v":1},{"r":28,"c":29,"v":0.8},{"r":28,"c":30,"v":0.1},{"r":28,"c":31,"v":0.2},
{"r":29,"c":0,"v":-0.08},{"r":29,"c":1,"v":-0.1},{"r":29,"c":2,"v":0.1},{"r":29,"c":3,"v":0.12},{"r":29,"c":4,"v":0.02},{"r":29,"c":5,"v":0.05},{"r":29,"c":6,"v":0.25},{"r":29,"c":7,"v":0.3},{"r":29,"c":8,"v":0.3},{"r":29,"c":9,"v":0.3},{"r":29,"c":10,"v":0.3},{"r":29,"c":11,"v":0.32},{"r":29,"c":12,"v":0.32},{"r":29,"c":13,"v":0.3},{"r":29,"c":14,"v":0.25},{"r":29,"c":15,"v":0.22},{"r":29,"c":16,"v":0.28},{"r":29,"c":17,"v":0.25},{"r":29,"c":18,"v":0.25},{"r":29,"c":19,"v":0.2},{"r":29,"c":20,"v":0.15},{"r":29,"c":21,"v":0.15},{"r":29,"c":22,"v":0.18},{"r":29,"c":23,"v":0.35},{"r":29,"c":24,"v":0.4},{"r":29,"c":25,"v":0.45},{"r":29,"c":26,"v":0.6},{"r":29,"c":27,"v":0.65},{"r":29,"c":28,"v":0.8},{"r":29,"c":29,"v":1},{"r":29,"c":30,"v":0.12},{"r":29,"c":31,"v":0.2},
{"r":30,"c":0,"v":0.1},{"r":30,"c":1,"v":0.1},{"r":30,"c":2,"v":-0.32},{"r":30,"c":3,"v":-0.15},{"r":30,"c":4,"v":-0.34},{"r":30,"c":5,"v":-0.3},{"r":30,"c":6,"v":0.05},{"r":30,"c":7,"v":0.1},{"r":30,"c":8,"v":0.12},{"r":30,"c":9,"v":0.12},{"r":30,"c":10,"v":0.1},{"r":30,"c":11,"v":0.12},{"r":30,"c":12,"v":0.12},{"r":30,"c":13,"v":0.1},{"r":30,"c":14,"v":0.05},{"r":30,"c":15,"v":0.08},{"r":30,"c":16,"v":-0.05},{"r":30,"c":17,"v":0.08},{"r":30,"c":18,"v":0.1},{"r":30,"c":19,"v":0.05},{"r":30,"c":20,"v":-0.08},{"r":30,"c":21,"v":0.05},{"r":30,"c":22,"v":0.08},{"r":30,"c":23,"v":0.1},{"r":30,"c":24,"v":0.1},{"r":30,"c":25,"v":0.15},{"r":30,"c":26,"v":0.12},{"r":30,"c":27,"v":0.1},{"r":30,"c":28,"v":0.1},{"r":30,"c":29,"v":0.12},{"r":30,"c":30,"v":1},{"r":30,"c":31,"v":0.3},
{"r":31,"c":0,"v":0.02},{"r":31,"c":1,"v":0},{"r":31,"c":2,"v":0.05},{"r":31,"c":3,"v":0.08},{"r":31,"c":4,"v":0.05},{"r":31,"c":5,"v":0.05},{"r":31,"c":6,"v":0.12},{"r":31,"c":7,"v":0.12},{"r":31,"c":8,"v":0.15},{"r":31,"c":9,"v":0.15},{"r":31,"c":10,"v":0.15},{"r":31,"c":11,"v":0.15},{"r":31,"c":12,"v":0.15},{"r":31,"c":13,"v":0.12},{"r":31,"c":14,"v":0.15},{"r":31,"c":15,"v":0.15},{"r":31,"c":16,"v":0.15},{"r":31,"c":17,"v":0.12},{"r":31,"c":18,"v":0.15},{"r":31,"c":19,"v":0.12},{"r":31,"c":20,"v":-0.18},{"r":31,"c":21,"v":0.1},{"r":31,"c":22,"v":0.12},{"r":31,"c":23,"v":0.2},{"r":31,"c":24,"v":0.18},{"r":31,"c":25,"v":0.1},{"r":31,"c":26,"v":0.15},{"r":31,"c":27,"v":0.15},{"r":31,"c":28,"v":0.2},{"r":31,"c":29,"v":0.2},{"r":31,"c":30,"v":0.3},{"r":31,"c":31,"v":1}
    ]
  },
  "config": {
    "view": {"stroke": null},
    "font": "Liberation Sans",
    "axis": {"labelFont": "Liberation Sans", "labelColor": "#222"},
    "legend": {"labelFont": "Liberation Sans", "labelColor": "#222"}
  },
  "spacing": 0,
  "bounds": "flush",
  "vconcat": [
    {
      "width": 374,
      "height": 52,
      "data": {"name": "tree"},
      "mark": {"type": "rule", "color": "#333", "strokeWidth": 1},
      "encoding": {
        "x": {"field": "p", "type": "quantitative", "axis": null, "scale": {"domain": [-5.9, 31.5], "nice": false, "zero": false}},
        "x2": {"field": "p2"},
        "y": {"field": "h", "type": "quantitative", "axis": null, "scale": {"domain": [0, 52], "nice": false, "zero": false}},
        "y2": {"field": "h2"}
      }
    },
    {
      "spacing": 0,
      "bounds": "flush",
      "hconcat": [
        {
          "width": 54,
          "height": 203,
          "data": {"name": "tree"},
          "mark": {"type": "rule", "color": "#333", "strokeWidth": 1},
          "encoding": {
            "y": {"field": "p", "type": "quantitative", "axis": null, "scale": {"domain": [-0.5, 31.5], "nice": false, "zero": false, "reverse": true}},
            "y2": {"field": "p2"},
            "x": {"field": "h", "type": "quantitative", "axis": null, "scale": {"domain": [0, 51.5], "nice": false, "zero": false, "reverse": true}},
            "x2": {"field": "h2"}
          }
        },
        {
          "width": 320,
          "height": 203,
          "data": {"name": "cells"},
          "mark": {"type": "rect", "stroke": "#9a9a9a", "strokeWidth": 0.6},
          "encoding": {
            "x": {
              "field": "c", "type": "ordinal",
              "scale": {"paddingInner": 0, "paddingOuter": 0},
              "axis": {"orient": "bottom", "title": null, "ticks": false, "domain": false, "labelAngle": 90, "labelAlign": "left", "labelBaseline": "middle", "labelPadding": 2, "labelFontSize": 6.2, "labelOverlap": false, "labelLimit": 0, "labelExpr": "names[datum.value]"}
            },
            "y": {
              "field": "r", "type": "ordinal",
              "scale": {"paddingInner": 0, "paddingOuter": 0},
              "axis": {"orient": "right", "title": null, "ticks": false, "domain": false, "labelAlign": "left", "labelPadding": 2, "labelFontSize": 6.2, "labelOverlap": false, "labelLimit": 0, "labelExpr": "names[datum.value]"}
            },
            "color": {
              "field": "v", "type": "quantitative",
              "scale": {"domain": [-0.34, -0.11667, 0.10667, 0.33, 0.55333, 0.77667, 1], "range": ["#4575b4", "#91bfdb", "#e0f3f8", "#ffffbf", "#fee090", "#fc8d59", "#d73027"]},
              "legend": {"title": null, "orient": "none", "legendX": 448, "legendY": 52.7, "direction": "vertical", "gradientLength": 143, "gradientThickness": 9, "gradientStrokeWidth": 0, "labelFontSize": 6.2, "labelOffset": 5, "values": [-0.2, 0, 0.2, 0.4, 0.6, 0.8, 1]}
            }
          }
        }
      ]
    }
  ]
}
